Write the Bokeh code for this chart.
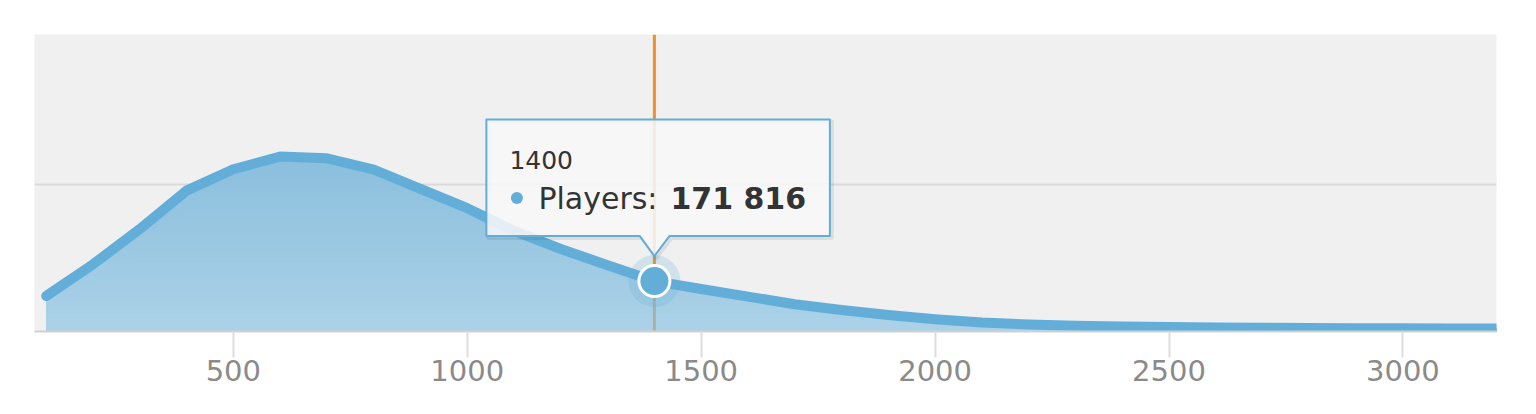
from bokeh.plotting import figure
from bokeh.models import Range1d, FixedTicker, Grid, Span
from bokeh.core.properties import value
from bokeh.embed import file_html
from bokeh.resources import INLINE

# ---------------- data ----------------
ratings = [100, 200, 300, 400, 500, 600, 700, 800, 900, 1000,
           1100, 1200, 1300, 1400, 1500, 1600, 1700, 1800, 1900, 2000,
           2100, 2200, 2300, 2400, 2500, 2600, 2700, 2800, 2900, 3000,
           3100, 3200]
players = [121000, 229000, 349000, 480000, 553000, 596000, 590000, 552000, 486000, 420000,
           343000, 281000, 226000, 171816, 145000, 119000, 93000, 73000, 56000, 42000,
           31000, 24000, 20000, 17000, 15000, 14000, 13000, 12000, 11500, 11000,
           10500, 10000]
series_name = "Players"
x_ticks = [500, 1000, 1500, 2000, 2500, 3000]
y_grid_ticks = [500000]
hover_index = 13  # the hovered point (1400)

# ---------------- layout ----------------
X0, X1 = 75, 3200
Y0, Y1 = 0, 1012000
BL, BR, BT, BB = 34, 24, 34, 70
W = 1520
FH = 297
H = BT + FH + BB
FW = W - BL - BR

SERIES = "#62aed8"
TOP_FILL = (139, 191, 221)
BOT_FILL = (172, 210, 232)

p = figure(width=W, height=H, x_range=Range1d(X0, X1), y_range=Range1d(Y0, Y1),
           output_backend="svg", toolbar_location=None, y_axis_location=None,
           min_border_left=BL, min_border_right=BR, min_border_top=BT, min_border_bottom=BB)
p.background_fill_color = "#f0f0f0"
p.border_fill_color = "white"
p.outline_line_color = None
p.xgrid.visible = False
for g in p.ygrid:
    g.visible = False

grid = Grid(dimension=1, ticker=FixedTicker(ticks=y_grid_ticks),
            grid_line_color="#d9d9d9", grid_line_width=2)
p.add_layout(grid)

ax = p.xaxis[0]
ax.ticker = FixedTicker(ticks=x_ticks)
ax.axis_line_color = "#d0d0d0"
ax.axis_line_width = 2
ax.major_tick_in = 0
ax.major_tick_out = 26
ax.major_tick_line_color = "#dddddd"
ax.major_tick_line_width = 2
ax.minor_tick_line_color = None
ax.major_label_standoff = 2
ax.major_label_text_font = "DejaVu Sans"
ax.major_label_text_font_size = "29px"
ax.major_label_text_color = "#8a8a8a"

hx = ratings[hover_index]
hy = players[hover_index]

# crosshair (behind the series)
p.add_layout(Span(location=hx, dimension="height", line_color="#ee8f2a",
                  line_width=3, level="underlay"))

# gradient area: full area in top color, then lower caps in lighter colors
peak = max(players)
N = 28
for k in range(N):
    cap = peak * (1 - k / N)
    t = k / N
    col = tuple(int(round(TOP_FILL[i] + (BOT_FILL[i] - TOP_FILL[i]) * t)) for i in range(3))
    hexcol = "#%02x%02x%02x" % col
    y2 = [min(v, cap) for v in players]
    p.varea(x=ratings, y1=[0] * len(ratings), y2=y2, fill_color=hexcol)

# crosshair part seen through the area
p.segment(x0=[hx], y0=[0], x1=[hx], y1=[hy], line_color="#b08a50", line_alpha=0.45, line_width=3)

# series line
p.line(ratings, players, line_color=SERIES, line_width=10,
       line_join="round", line_cap="round")

# hovered marker + halo
p.scatter([hx], [hy], size=52, fill_color=SERIES, fill_alpha=0.22, line_color=None)
p.scatter([hx], [hy], size=31, fill_color=SERIES, line_color="white", line_width=3)

# ---------------- tooltip ----------------
def dx(px):
    return px * (X1 - X0) / FW

def dy(px):  # px upward
    return px * (Y1 - Y0) / FH

L, R = hx + dx(-168), hx + dx(175.5)
T, B = hy + dy(161.5), hy + dy(45)
PL, PR = hx + dx(-14.5), hx + dx(15)
TIPY = hy + dy(25)
xs = [L, R, R, PR, hx, PL, L]
ys = [T, T, B, B, TIPY, B, B]

# shadow
p.patch([v + dx(2) for v in xs], [v - dy(2) for v in ys], fill_color=None,
        line_color="black", line_alpha=0.08, line_width=4, line_join="round")
p.patch(xs, ys, fill_color="#f7f7f7", fill_alpha=0.88,
        line_color=SERIES, line_width=2, line_join="round")

font = value("DejaVu Sans")
p.text(x=[hx + dx(-145)], y=[hy + dy(121)], text=[str(hx)], text_font=font,
       text_font_size="25px", text_color="#333333", text_baseline="alphabetic",
       text_align="left")
p.scatter([hx + dx(-137.5)], [hy + dy(83)], size=12, fill_color=SERIES, line_color=None)
p.text(x=[hx + dx(-116)], y=[hy + dy(83)], text=[series_name + ":"], text_font=font,
       text_font_size="30px", text_color="#333333", text_baseline="alphabetic",
       text_align="left")
p.text(x=[hx + dx(16)], y=[hy + dy(83)], text=[f"{hy:,}".replace(",", " ")], text_font=font,
       text_font_size="30px", text_font_style="bold", text_color="#333333",
       text_baseline="alphabetic", text_align="left")

open("out.html", "w").write(file_html(p, INLINE))
